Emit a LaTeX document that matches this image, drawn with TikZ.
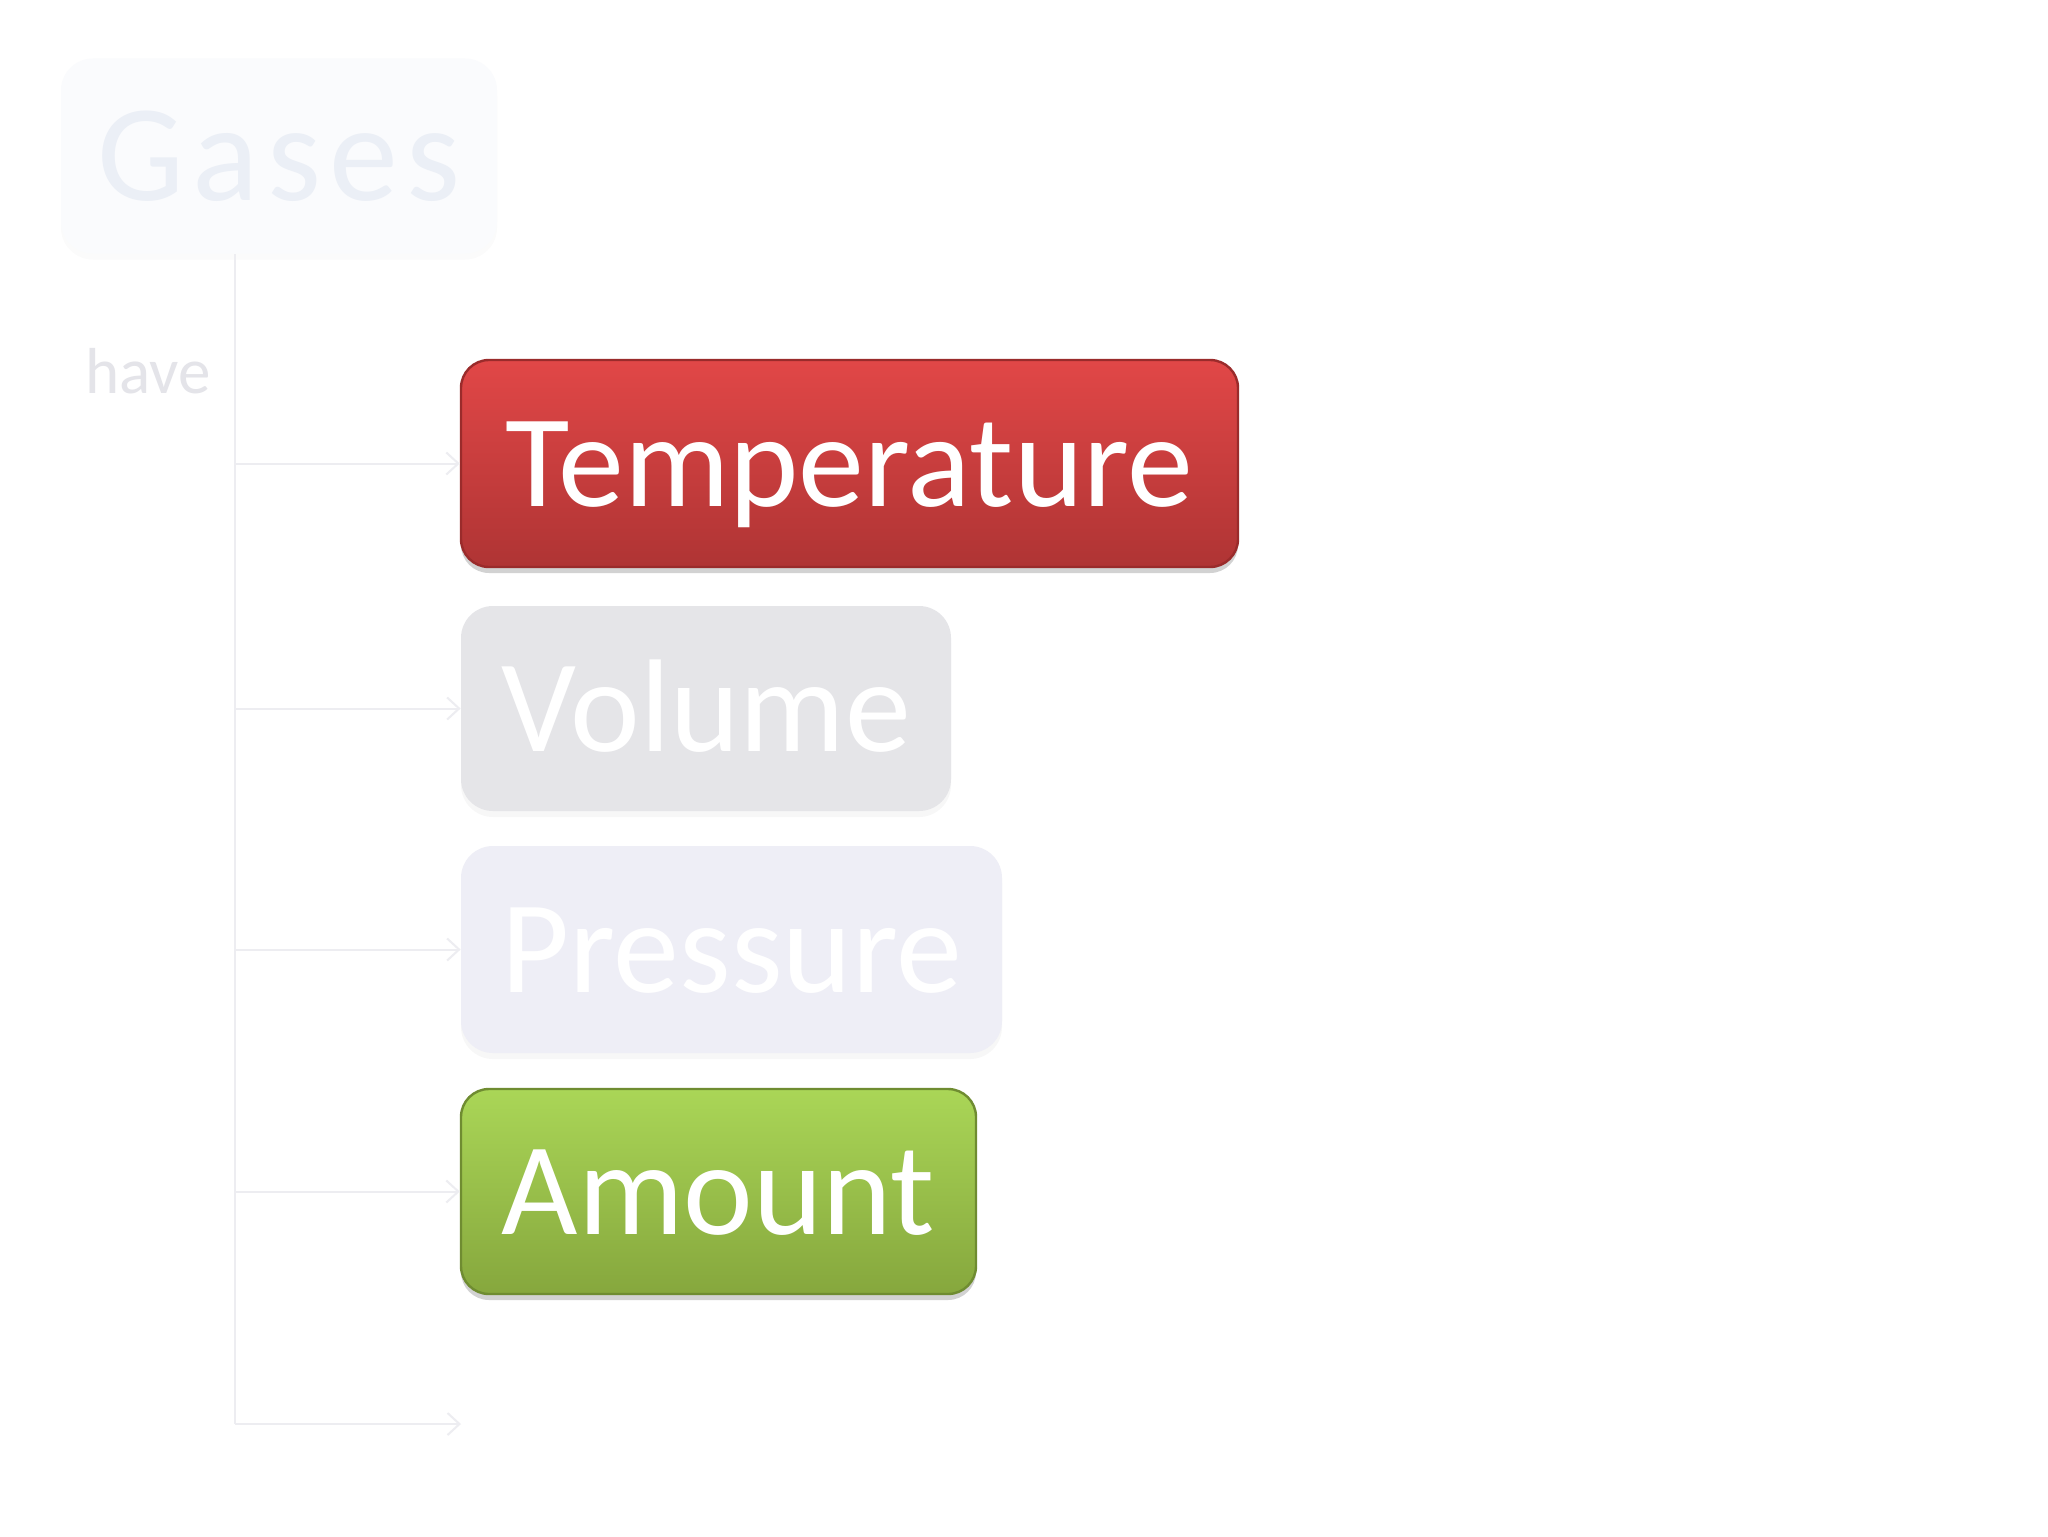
\documentclass[tikz,border=0pt]{standalone}
\usepackage{fontspec}
\setmainfont{Carlito}
\usetikzlibrary{arrows.meta,shadows}
\definecolor{linec}{HTML}{EDEDF1}
\definecolor{gasfill}{HTML}{FAFBFD}
\definecolor{gastext}{HTML}{EBEFF6}
\definecolor{havetext}{HTML}{E4E4E9}
\definecolor{redtop}{HTML}{E14747}
\definecolor{redbot}{HTML}{AF3434}
\definecolor{redline}{HTML}{9A2B2B}
\definecolor{greentop}{HTML}{AAD657}
\definecolor{greenbot}{HTML}{86A73D}
\definecolor{greenline}{HTML}{6F8C31}
\definecolor{volfill}{HTML}{E5E5E8}
\definecolor{presfill}{HTML}{EEEEF6}
\tikzset{
  boxbase/.style={rounded corners=14pt, inner sep=0pt, text=white,
    font=\fontsize{66}{70}\selectfont, text height=42.5pt, text depth=0pt},
  tempbox/.style={boxbase, top color=redtop, bottom color=redbot, draw=redline, line width=1.2pt,
    drop shadow={opacity=0.35, shadow xshift=0pt, shadow yshift=-3pt}},
  amtbox/.style={boxbase, top color=greentop, bottom color=greenbot, draw=greenline, line width=1.2pt,
    drop shadow={opacity=0.35, shadow xshift=0pt, shadow yshift=-3pt}},
  volbox/.style={boxbase, fill=volfill, rounded corners=16pt,
    drop shadow={opacity=0.06, shadow xshift=0pt, shadow yshift=-3pt}},
  presbox/.style={boxbase, fill=presfill, rounded corners=16pt,
    drop shadow={opacity=0.06, shadow xshift=0pt, shadow yshift=-3pt}},
  gasbox/.style={rounded corners=16pt, inner sep=0pt, fill=gasfill, text=gastext,
    font=\fontsize{69}{72}\selectfont\addfontfeatures{LetterSpace=6}, text height=44.5pt, text depth=0pt,
    drop shadow={opacity=0.03, shadow xshift=0pt, shadow yshift=-3pt}},
  conn/.style={draw=linec, line width=1pt},
  connarrow/.style={conn, -{Straight Barb[length=6pt,width=11pt,line width=1pt]}}
}
\begin{document}
\begin{tikzpicture}[x=0.5pt,y=-0.5pt]
\useasboundingbox (0,0) rectangle (2048,1536);
\fill[white] (0,0) rectangle (2048,1536);
\node[gasbox, minimum width=218pt, minimum height=97.5pt] (gases) at (279,156) {Gases};
\node[text=havetext, font=\fontsize{32.5}{34}\selectfont, inner sep=0pt] (have) at (148,371) {have};
\node[tempbox, minimum width=388.5pt, minimum height=103.5pt] (temp) at (849.5,463.5) {Temperature};
\node[volbox, minimum width=245pt, minimum height=102.5pt] (vol) at (706,708.5) {Volume};
\node[presbox, minimum width=270.5pt, minimum height=103.5pt] (pres) at (731.5,949.5) {Pressure};
\node[amtbox, minimum width=257.5pt, minimum height=102.5pt] (amt) at (718.5,1191.5) {Amount};
\coordinate (trunktop) at (235,254);
\coordinate (trunkbot) at (235,1424);
\coordinate (j1) at (235,463.5);
\coordinate (j2) at (235,708.5);
\coordinate (j3) at (235,949.5);
\coordinate (j4) at (235,1191.5);
\coordinate (end5) at (461,1424);
\draw[conn] (trunktop) -- (trunkbot);
\draw[connarrow] (j1) -- (temp.west);
\draw[connarrow] (j2) -- (vol.west);
\draw[connarrow] (j3) -- (pres.west);
\draw[connarrow] (j4) -- (amt.west);
\draw[connarrow] (trunkbot) -- (end5);
\end{tikzpicture}
\end{document}
